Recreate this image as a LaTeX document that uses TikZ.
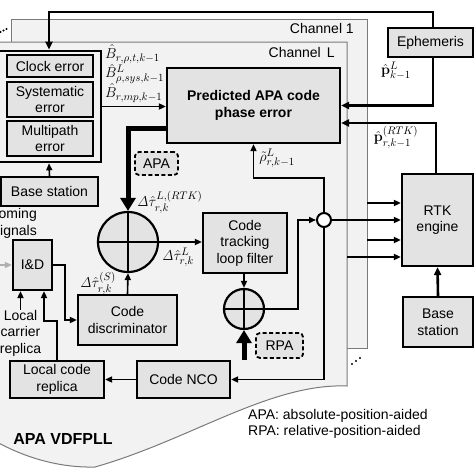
\documentclass[tikz,border=0pt]{standalone}
\usepackage[no-math]{fontspec}
\setmainfont{Liberation Sans}
\usetikzlibrary{arrows.meta,calc}
\DeclareMathSizes{14}{14}{10.5}{8}
\definecolor{boxfill}{HTML}{E3E3E3}
\definecolor{panelfill}{HTML}{F2F2F2}
\definecolor{panelline}{HTML}{7A7A7A}
\definecolor{ingray}{HTML}{B0B0B0}
\begin{document}
\begin{tikzpicture}[x=1pt,y=-1pt,
  font=\fontsize{14}{16.5}\selectfont,
  blk/.style={draw=black, fill=boxfill, line width=2.2pt, align=center, inner sep=0pt},
  dbox/.style={draw=black, fill=boxfill, line width=1.8pt, dash pattern=on 4pt off 2.5pt, rounded corners=4pt, align=center, inner sep=0pt},
  sumnode/.style={circle, draw=black, fill=boxfill, line width=2.2pt, inner sep=0pt},
  conn/.style={line width=1.6pt, -{Triangle[length=7pt,width=6pt]}},
  feed/.style={line width=2.6pt, -{Triangle[length=8pt,width=7pt]}},
  bigarrow/.style={line width=5pt, -{Triangle[length=13pt,width=15pt]}},
  lbl/.style={font=\fontsize{14}{16}\selectfont, inner sep=0pt},
  txt/.style={inner sep=0pt, align=center},
  panel/.style={draw=panelline, fill=panelfill, line width=1pt}
]
\useasboundingbox (0,0) rectangle (474,474);
\clip (0,0) rectangle (474,474);

% channel panels
\path[panel] (11,19) rectangle (367,348);
\path[panel] (-5,42) -- (347,42) -- (347,386)
  .. controls (270,383) and (190,440) .. (95,467)
  .. controls (55,468) and (20,455) .. (-5,441) -- cycle;
\node[txt, anchor=east] (ch1) at (354,28) {Channel 1};
\node[txt, anchor=east] (chL) at (335,52) {Channel\, L};
\fill (0.5,32) circle (1.1) (3.5,30.5) circle (1.1) (6.5,29) circle (1.1);
\fill (352,364) circle (1.1) (356,361) circle (1.1) (360,358) circle (1.1);

% error group
\node[draw=black, fill=panelfill, line width=2.6pt, minimum width=104pt, minimum height=111pt, inner sep=0pt] (grp) at (49,106.5) {};
\node[blk, minimum width=86pt, minimum height=22pt] (clk) at (50,66) {Clock error};
\node[blk, minimum width=86pt, minimum height=35pt] (sys) at (50,99.5) {Systematic\\error};
\node[blk, minimum width=86pt, minimum height=35pt] (mp) at (50,138.5) {Multipath\\error};
\node[blk, minimum width=97pt, minimum height=29pt] (bsL) at (49.5,191.5) {Base station};

% main blocks
\node[blk, minimum width=173pt, minimum height=75pt, font=\fontsize{14}{16.5}\selectfont\bfseries] (pred) at (253.5,105.5) {Predicted APA code\\phase error};
\node[blk, minimum width=85pt, minimum height=29pt] (eph) at (430.5,42.5) {Ephemeris};
\node[blk, minimum width=71pt, minimum height=92pt] (rtk) at (437.5,220) {RTK\\engine};
\node[blk, minimum width=70pt, minimum height=50pt] (bsR) at (438,322) {Base\\station};
\node[blk, minimum width=84pt, minimum height=60pt] (ctlf) at (245,243) {Code\\tracking\\loop filter};
\node[blk, minimum width=99pt, minimum height=50pt] (disc) at (127.5,320) {Code\\discriminator};
\node[blk, minimum width=39pt, minimum height=50pt] (iad) at (32.5,265) {I\&D};
\node[blk, minimum width=94pt, minimum height=37pt] (lcr) at (57,379.5) {Local code\\replica};
\node[blk, minimum width=93pt, minimum height=37pt] (nco) at (183.5,379.5) {Code NCO};
\node[dbox, minimum width=43pt, minimum height=23pt] (apa) at (156.5,163.5) {APA};
\node[dbox, minimum width=47pt, minimum height=25pt] (rpa) at (279.5,345.5) {RPA};

% summing junctions
\node[sumnode, minimum size=60pt] (sum1) at (128,242) {};
\draw[line width=2.2pt] (sum1.north) -- (sum1.south) (sum1.west) -- (sum1.east);
\node[sumnode, minimum size=40pt] (sum2) at (244,309) {};
\draw[line width=2.2pt] (sum2.north) -- (sum2.south) (sum2.west) -- (sum2.east);
\node[circle, draw=black, fill=white, line width=2pt, minimum size=14pt, inner sep=0pt] (jn) at (324,220) {};

% texts
\node[txt, align=right, anchor=east] (insig) at (37,223.5) {Incoming\\signals};
\node[txt] (lcar) at (20.5,333) {Local\\carrier\\replica};
\node[txt, font=\fontsize{16}{18}\selectfont\bfseries] (vdf) at (63,439) {APA VDFPLL};
\node[txt, align=left, anchor=west] (legend) at (248,424) {APA: absolute-position-aided\\RPA: relative-position-aided};

% math labels
\node[lbl, anchor=west] (b1) at (105,54) {$\hat{B}_{r,\rho,t,k-1}$};
\node[lbl, anchor=west] (b2) at (105,74) {$\hat{B}^{L}_{\rho,sys,k-1}$};
\node[lbl, anchor=west] (b3) at (105,93) {$\hat{B}_{r,mp,k-1}$};
\node[lbl] (pL) at (396,71) {$\hat{\mathbf{p}}^{L}_{k-1}$};
\node[lbl] (pR) at (396,137) {$\hat{\mathbf{p}}^{(RTK)}_{r,k-1}$};
\node[lbl] (rho) at (277,158) {$\tilde{\rho}^{L}_{r,k-1}$};
\node[lbl, anchor=west] (dtR) at (137,202) {$\mathit{\Delta}\hat{\tau}^{L,(RTK)}_{r,k}$};
\node[lbl] (dtL) at (178,257) {$\mathit{\Delta}\hat{\tau}^{L}_{r,k}$};
\node[lbl] (dtS) at (98,283) {$\mathit{\Delta}\hat{\tau}^{(S)}_{r,k}$};

% coordinates
\coordinate (topL) at (49,12);
\coordinate (c1) at (298,220);
\coordinate (c2) at (253.5,178);
\coordinate (c3) at (65,320);
\coordinate (rpaS) at (244,360);
\coordinate (in0) at (0,265);
\coordinate (r1) at (367,203);
\coordinate (r3) at (367,240);
\coordinate (r4) at (347,257);

% connectors
\draw[feed] ([xshift=2.5pt]eph.north) |- (topL) -- (grp.north);
\draw[feed] ([xshift=2.5pt]eph.south) |- (pred.east);
\draw[feed] ([xshift=-1.5pt]rtk.north) |- ([yshift=-17.5pt]pred.east);
\draw[conn] (grp.east) -- (pred.west |- grp.east);
\draw[conn] (bsL.north) -- (grp.south);
\draw[bigarrow] ([yshift=-22.5pt]pred.west) -| (sum1.north);
\draw[conn] (disc.north) -- (sum1.south);
\draw[conn] (sum1.east) -- (ctlf.west |- sum1.east);
\draw[conn] (sum2.north |- ctlf.south) -- (sum2.north);
\draw[bigarrow] (rpaS) -- (sum2.south);
\draw[conn] (sum2.east) -| (c1) -- (jn.west);
\draw[conn] (jn.north) |- (c2) -- (pred.south);
\draw[conn] (jn.south) |- (nco.east);
\draw[conn] (jn.east) -- (rtk.west |- jn.east);
\draw[conn] (nco.west) -- (lcr.east);
\draw[conn] (lcr.north) -- ++(0,-39) -| ([xshift=11.5pt]iad.south);
\draw[conn] (lcar.north) -- (lcar.north |- iad.south);
\draw[conn] (iad.east) -| (c3) -- (disc.west);
\draw[conn, draw=ingray, -{Triangle[length=7pt,width=6pt,fill=ingray]}] (in0) -- (iad.west);
\draw[conn] (r1) -- (rtk.west |- r1);
\draw[conn] (r3) -- (rtk.west |- r3);
\draw[conn] (r4) -- (rtk.west |- r4);
\draw[feed] (bsR.north) -- (rtk.south);
\end{tikzpicture}
\end{document}
